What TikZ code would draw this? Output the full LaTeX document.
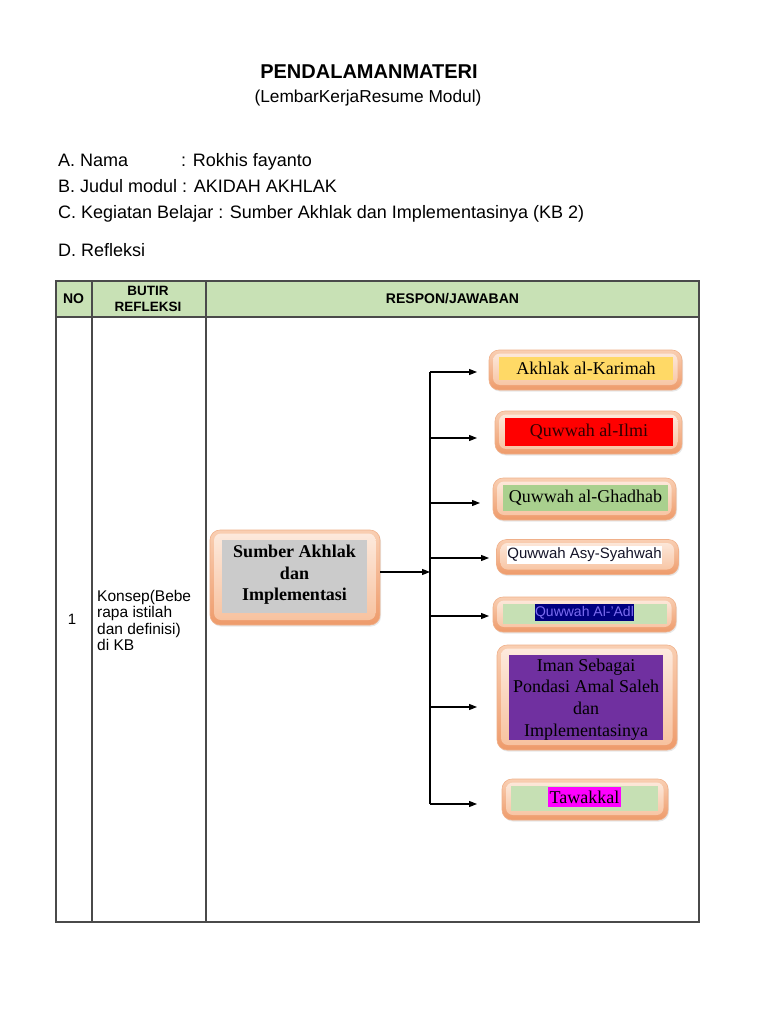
\documentclass[tikz,border=0pt]{standalone}
\usepackage{fontspec}
\setmainfont{Liberation Sans}
\newfontfamily\serifbox{Liberation Serif}
\usetikzlibrary{arrows.meta,shadows}
\definecolor{hdrgreen}{HTML}{C8E1B5}
\definecolor{tline}{HTML}{4A4A4A}
\definecolor{peachTop}{HTML}{F9CFB3}
\definecolor{peachBot}{HTML}{EE9B6B}
\definecolor{peachIT}{HTML}{FDEBDF}
\definecolor{peachIB}{HTML}{F7C09C}
\definecolor{peachLine}{HTML}{F0B08A}
\definecolor{ylw}{HTML}{FFD966}
\definecolor{grn}{HTML}{A9D08E}
\definecolor{lgrn}{HTML}{C6E0B4}
\definecolor{purp}{HTML}{7030A0}
\definecolor{navyhl}{HTML}{000080}
\definecolor{adltext}{HTML}{7B6CF0}
\definecolor{gbox}{HTML}{CBCBCB}
\definecolor{mag}{HTML}{FF00FF}
\definecolor{brightred}{HTML}{FF0000}
\begin{document}
\begin{tikzpicture}[x=1pt,y=-1pt,
  peach/.style={rounded corners=10pt, top color=peachTop, bottom color=peachBot,
    draw=peachLine, line width=0.6pt, inner sep=0pt,
    drop shadow={shadow xshift=1pt, shadow yshift=-1.5pt, opacity=0.18, fill=gray},
    path picture={
      \shade[top color=peachIT, bottom color=peachIB, rounded corners=7pt] ([shift={(4pt,-3.5pt)}]path picture bounding box.north west) rectangle ([shift={(-4.5pt,5pt)}]path picture bounding box.south east);
    }},
  inbox/.style={inner sep=0pt, align=center},
  serifbig/.style={font=\serifbox\fontsize{18}{21.5}\selectfont},
  txt/.style={inner sep=0pt, anchor=base west, font=\fontsize{18}{21}\selectfont},
  hdr/.style={inner sep=0pt, align=center, font=\bfseries\fontsize{14}{16}\selectfont},
  conn/.style={line width=1.1pt, black},
  arr/.style={line width=1.1pt, black, -{Triangle[length=8pt,width=6pt]}},
]
\useasboundingbox (0,0) rectangle (768,1024);
\fill[white] (0,0) rectangle (768,1024);

% heading
\node[inner sep=0pt, anchor=base, font=\bfseries\fontsize{20}{22}\selectfont] (title) at (369,79) {PENDALAMANMATERI};
\node[inner sep=0pt, anchor=base, font=\fontsize{17.3}{20}\selectfont] (subtitle) at (368,103) {(LembarKerjaResume Modul)};

\node[txt] (la) at (58,166.5) {A. Nama};
\node[txt] (lav) at (181,166.5) {: Rokhis fayanto};
\node[txt] (lb) at (58,192.5) {B. Judul modul : AKIDAH AKHLAK};
\node[txt] (lc) at (58,218.5) {C. Kegiatan Belajar : Sumber Akhlak dan Implementasinya (KB 2)};
\node[txt] (ld) at (58,256.5) {D. Refleksi};

% table
\fill[hdrgreen] (56,281) rectangle (699,317);
\draw[tline, line width=1.4pt] (56,281) rectangle (699,922);
\draw[tline, line width=1.4pt] (56,317) -- (699,317);
\draw[tline, line width=1.2pt] (92,281) -- (92,922);
\draw[tline, line width=1.2pt] (206,281) -- (206,922);

\node[hdr] (hno) at (73.5,299) {NO};
\node[hdr, font=\bfseries\fontsize{13.5}{16}\selectfont] (hbutir) at (148,298.5) {BUTIR\\REFLEKSI};
\node[hdr] (hresp) at (452.5,299) {RESPON/JAWABAN};

\node[inner sep=0pt, font=\fontsize{15}{16.4}\selectfont] (no1) at (72,619.5) {1};
\node[inner sep=0pt, anchor=north west, align=left, font=\fontsize{15.5}{16.4}\selectfont] (konsep) at (97,590) {Konsep(Bebe\\rapa istilah\\dan definisi)\\di KB};

% main box
\node[peach, minimum width=170, minimum height=95] (mo) at (295,577.5) {};
\node[inbox, fill=gbox, minimum width=145, minimum height=73] (main) at (294.5,576.5) {};
\node[inbox, font=\serifbox\bfseries\fontsize{18}{21.5}\selectfont] (maintext) at (294.5,575) {Sumber Akhlak\\dan\\Implementasi};

% right boxes
\node[peach, minimum width=193, minimum height=40] (b1o) at (585.5,370) {};
\node[inbox, fill=ylw, minimum width=174, minimum height=23, serifbig] (b1) at (586,368.5) {Akhlak al-Karimah};

\node[peach, minimum width=187, minimum height=43] (b2o) at (588.5,432.5) {};
\node[inbox, fill=brightred, minimum width=168, minimum height=28, serifbig, text={rgb,255:red,50;green,0;blue,0}] (b2) at (589,432) {Quwwah al-Ilmi};

\node[peach, minimum width=183, minimum height=42] (b3o) at (584.5,499) {};
\node[inbox, fill=grn, minimum width=165, minimum height=26, serifbig] (b3) at (585.5,498) {Quwwah al-Ghadhab};

\node[peach, minimum width=182, minimum height=35] (b4o) at (587.5,557) {};
\node[inbox, fill=white, minimum width=155, minimum height=18, font=\fontsize{15}{17}\selectfont, text={rgb,255:red,20;green,20;blue,40}] (b4) at (584.5,555) {Quwwah Asy-Syahwah};

\node[peach, minimum width=183, minimum height=35] (b5o) at (584.5,614.5) {};
\node[inbox, fill=lgrn, minimum width=164, minimum height=20] (b5in) at (585,613.5) {};
\node[inbox, fill=navyhl, minimum width=97, minimum height=17, font=\fontsize{14}{16}\selectfont, text=adltext] (b5) at (584.5,612.5) {Quwwah Al-'Adl};

\node[peach, minimum width=180, minimum height=105] (b6o) at (587,697.5) {};
\node[inbox, fill=purp, minimum width=154, minimum height=85] (b6) at (586,697.5) {};
\node[inbox, font=\serifbox\fontsize{18}{21.7}\selectfont] (b6text) at (586,699.5) {Iman Sebagai\\Pondasi Amal Saleh\\dan\\Implementasinya};

\node[peach, minimum width=166, minimum height=41] (b7o) at (585,799.5) {};
\node[inbox, fill=lgrn, minimum width=147, minimum height=25] (b7in) at (584.5,798.5) {};
\node[inbox, fill=mag, minimum width=73, minimum height=20, serifbig] (b7) at (584.5,797) {Tawakkal};

% connectors
\coordinate (vtop) at (430,372);
\coordinate (vbot) at (430,804);
\coordinate (jn) at (430,572);
\draw[conn] (vtop) -- (vbot);
\draw[arr] (mo.east |- jn) -- (jn);

\coordinate (t1) at (477,372);
\coordinate (t2) at (477,438);
\coordinate (t3) at (480,503);
\coordinate (t4) at (489,558);
\coordinate (t5) at (489,616);
\coordinate (t6) at (477,707);
\coordinate (t7) at (477,804);
\foreach \i in {1,...,7}{
  \draw[arr] (vtop |- t\i) -- (t\i);
}
\end{tikzpicture}
\end{document}
